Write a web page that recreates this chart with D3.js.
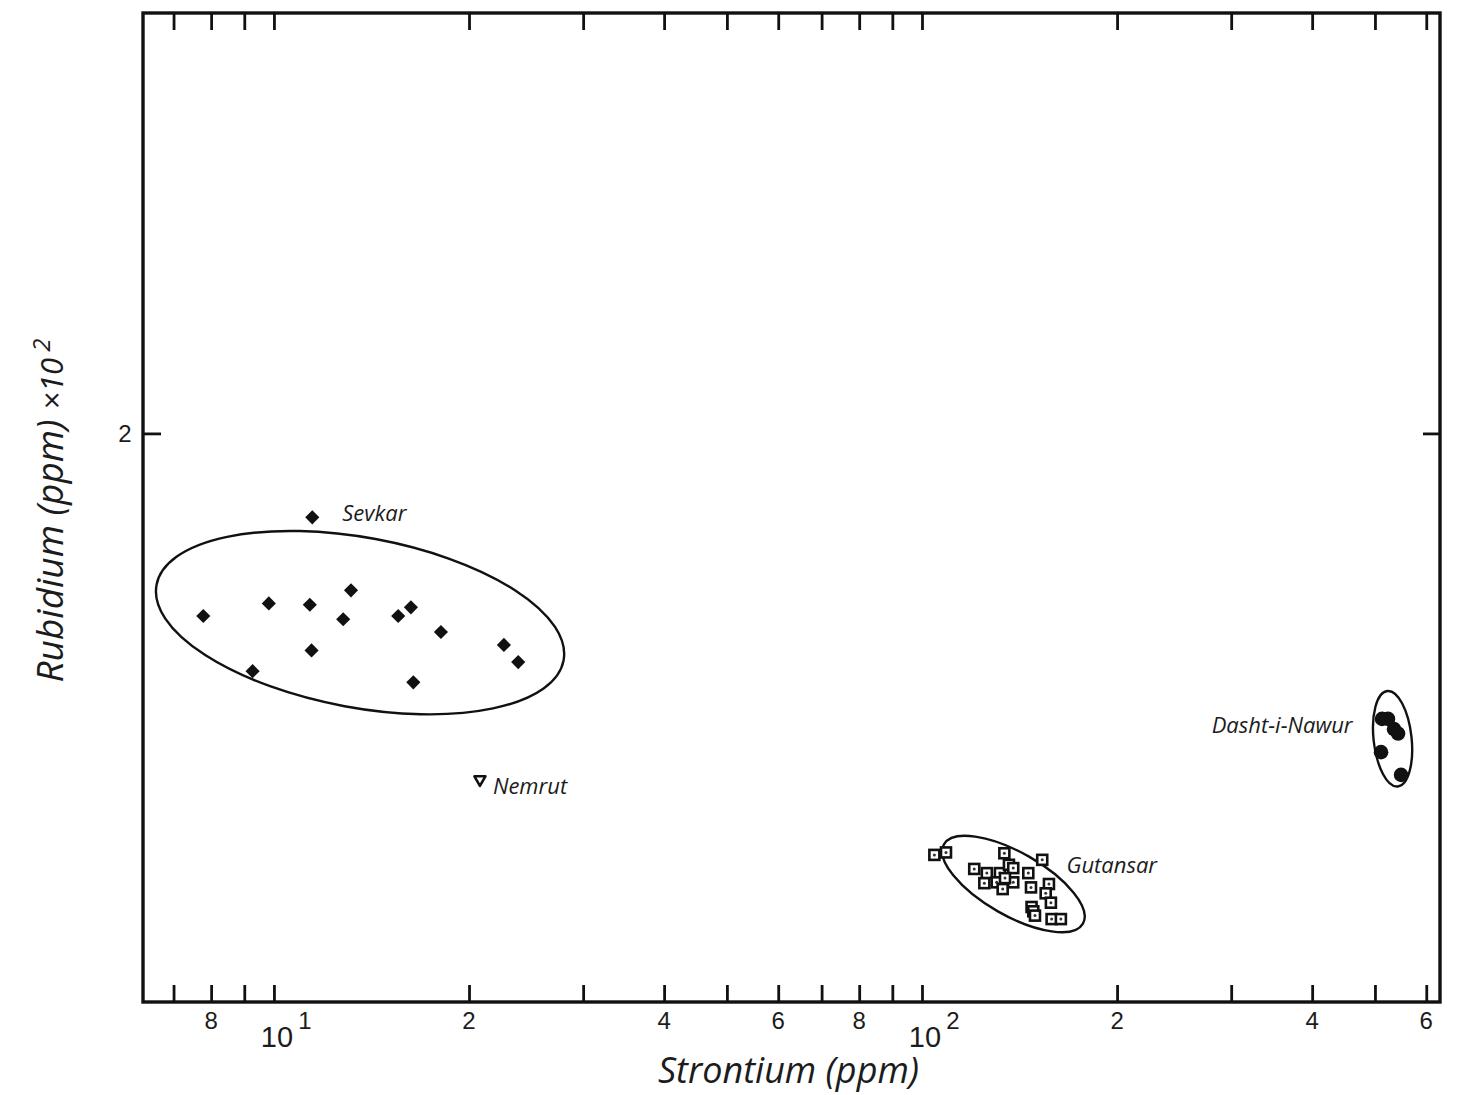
<!DOCTYPE html>
<html><head><meta charset="utf-8">
<script src="https://cdn.jsdelivr.net/npm/d3@7"></script>
<style>body{margin:0;background:#fff;} svg{display:block;}</style>
</head><body><svg id="c" width="1474" height="1095"></svg>
<script>
// ---------- DATA ----------
const xDomain = [6.28, 630];          // Strontium (ppm), log axis extent
const yDomain = [121, 290];           // Rubidium (ppm), log axis extent
const xTickValues = [7,8,9,10,20,30,40,50,60,70,80,90,100,200,300,400,500,600];
const xDigitTicks = [8,20,40,60,80,200,400,600];
const xDigitLabels = ["8","2","4","6","8","2","4","6"];
const xDecadeTicks = [10,100];
const xDecadeBase = ["10","10"];
const xDecadeExp = ["1","2"];
const yTickValues = [200];
const yTickLabels = ["2"];

const sevkarSr = [11.46,7.78,9.82,11.36,13.15,12.79,15.55,16.27,18.10,11.43,9.27,16.41,22.64,23.82];
const sevkarRb = [185.7,170.2,172.1,171.9,174.1,169.7,170.2,171.5,167.8,165.1,162.1,160.5,165.9,163.4];

const nemrutSr = [20.79];
const nemrutRb = [147.3];

const gutansarSr = [104.5,108.9,134.0,153.3,120.4,125.9,131.9,136.2,138.3,145.9,124.8,130.4,133.2,138.3,147.3,157.0,155.2,158.1,147.6,148.5,149.4,158.5,163.8,134.3];
const gutansarRb = [137.8,138.1,138.0,137.2,136.1,135.6,135.6,136.6,136.2,135.6,134.4,134.5,133.7,134.5,133.9,134.3,133.2,132.1,131.6,131.1,130.6,130.2,130.2,135.0];

const dashtSr = [512.8,523.8,535.1,542.8,510.9,548.6];
const dashtRb = [155.4,155.4,154.0,153.4,150.9,147.9];

// group envelopes: centre (Sr, Rb)
const ellipseNames = ["Sevkar","Gutansar","Dasht-i-Nawur"];
const ellipseSr = [13.58, 138.4, 532.3];
const ellipseRb = [169.2, 134.3, 152.7];

// ---------- DRAWING ----------
const svg = d3.select("#c");
const X0 = 143, X1 = 1440, Y0 = 13, Y1 = 1002;
const ink = "#111";
const x = d3.scaleLog().domain(xDomain).range([X0, X1]);
const y = d3.scaleLog().domain(yDomain).range([Y1, Y0]);

svg.append("rect").attr("width",1474).attr("height",1095).attr("fill","#fff");

function styleAxis(g){
  g.select(".domain").remove();
  g.selectAll(".tick line").attr("stroke", ink).attr("stroke-width", 2.8);
  g.selectAll(".tick text").remove();
}
svg.append("g").attr("transform",`translate(0,${Y1})`)
  .call(d3.axisBottom(x).tickValues(xTickValues).tickSize(-17).tickSizeOuter(0).tickFormat(""))
  .call(styleAxis);
svg.append("g").attr("transform",`translate(0,${Y0})`)
  .call(d3.axisTop(x).tickValues(xTickValues).tickSize(-17).tickSizeOuter(0).tickFormat(""))
  .call(styleAxis);
svg.append("g").attr("transform",`translate(${X0},0)`)
  .call(d3.axisLeft(y).tickValues(yTickValues).tickSize(-18).tickSizeOuter(0).tickFormat(""))
  .call(styleAxis);
svg.append("g").attr("transform",`translate(${X1},0)`)
  .call(d3.axisRight(y).tickValues(yTickValues).tickSize(-17).tickSizeOuter(0).tickFormat(""))
  .call(styleAxis);

// frame
svg.append("rect").attr("x",X0).attr("y",Y0).attr("width",X1-X0).attr("height",Y1-Y0)
  .attr("fill","none").attr("stroke",ink).attr("stroke-width",3.4);

// tick labels
const tickFont = "'Liberation Sans', Arial, Helvetica, sans-serif";
svg.append("g").selectAll("text").data(xDigitTicks).join("text")
  .attr("x", d => x(d)).attr("y", 1028.5)
  .attr("text-anchor","middle").attr("font-family",tickFont).attr("font-size",24).attr("fill","#1c1c1c")
  .text((d,i) => xDigitLabels[i]);
const dec = svg.append("g").selectAll("g").data(xDecadeTicks).join("g");
dec.append("text").attr("x", d => x(d)+3).attr("y", 1047)
  .attr("text-anchor","middle").attr("font-family",tickFont).attr("font-size",29).attr("fill","#1c1c1c")
  .text((d,i) => xDecadeBase[i]);
dec.append("text").attr("x", d => x(d)+31).attr("y", 1028.5)
  .attr("text-anchor","middle").attr("font-family",tickFont).attr("font-size",24).attr("fill","#1c1c1c")
  .text((d,i) => xDecadeExp[i]);
svg.append("g").selectAll("text").data(yTickValues).join("text")
  .attr("x", 125).attr("y", d => y(d)+8.5)
  .attr("text-anchor","middle").attr("font-family",tickFont).attr("font-size",24).attr("fill","#1c1c1c")
  .text((d,i) => yTickLabels[i]);

// axis titles
const titleFont = "'Open Sans', 'Noto Sans', sans-serif";
svg.append("text").attr("x", (X0+X1)/2 - 3).attr("y", 1083)
  .attr("text-anchor","middle").attr("font-family",titleFont).attr("font-style","italic")
  .attr("font-size",36).attr("fill","#1c1c1c").text("Strontium (ppm)");
const yt = svg.append("text").attr("transform",`translate(63,${(Y0+Y1)/2 + 3}) rotate(-90)`)
  .attr("text-anchor","middle").attr("font-family",titleFont).attr("font-style","italic")
  .attr("fill","#1c1c1c").attr("font-size",37);
yt.append("tspan").text("Rubidium (ppm) ");
yt.append("tspan").attr("font-size",31).text(" \u00d710");
yt.append("tspan").attr("font-size",24).attr("dy",-13).text(" 2");

// ellipses
const ellipseGeom = [
  {rx:207, ry:85, rot:10.5},
  {rx:80, ry:31.5, rot:29.7},
  {rx:48, ry:19, rot:83.7}
];
svg.append("g").selectAll("ellipse").data(ellipseNames).join("ellipse")
  .attr("transform", (d,i) => `translate(${x(ellipseSr[i])},${y(ellipseRb[i])}) rotate(${ellipseGeom[i].rot})`)
  .attr("rx", (d,i) => ellipseGeom[i].rx).attr("ry", (d,i) => ellipseGeom[i].ry)
  .attr("fill","none").attr("stroke",ink).attr("stroke-width",2.4);

// Sevkar diamonds
const sevkar = d3.zip(sevkarSr, sevkarRb);
svg.append("g").selectAll("path").data(sevkar).join("path")
  .attr("transform", d => `translate(${x(d[0])},${y(d[1])}) rotate(45)`)
  .attr("d", d3.symbol(d3.symbolSquare, 100)).attr("fill", ink);

// Nemrut open inverted triangle
const nemrut = d3.zip(nemrutSr, nemrutRb);
svg.append("g").selectAll("path").data(nemrut).join("path")
  .attr("transform", d => `translate(${x(d[0])},${y(d[1])}) rotate(180)`)
  .attr("d", d3.symbol(d3.symbolTriangle, 52)).attr("fill","#fff")
  .attr("stroke", ink).attr("stroke-width", 2.6).attr("stroke-linejoin","round");

// Gutansar open squares with centre dot
const gutansar = d3.zip(gutansarSr, gutansarRb);
const gq = svg.append("g").selectAll("g").data(gutansar).join("g")
  .attr("transform", d => `translate(${x(d[0])},${y(d[1])})`);
gq.append("rect").attr("x",-5).attr("y",-5).attr("width",10).attr("height",10)
  .attr("fill","#fff").attr("stroke",ink).attr("stroke-width",2.6);
gq.append("circle").attr("r",1.5).attr("fill","#333");

// Dasht-i-Nawur filled circles
const dasht = d3.zip(dashtSr, dashtRb);
svg.append("g").selectAll("circle").data(dasht).join("circle")
  .attr("cx", d => x(d[0])).attr("cy", d => y(d[1])).attr("r", 7.3).attr("fill", ink);

// group labels
const lab = (t, px, py, anchor) => svg.append("text").attr("x",px).attr("y",py)
  .attr("text-anchor",anchor).attr("font-family",titleFont).attr("font-style","italic")
  .attr("font-size",22).attr("fill","#1c1c1c").text(t);
const sevkarTop = sevkar[0];
lab("Sevkar", x(sevkarTop[0]) + 30, y(sevkarTop[1]) + 4, "start");
lab("Nemrut", x(nemrut[0][0]) + 13, y(nemrut[0][1]) + 15, "start");
lab("Gutansar", x(ellipseSr[1]) + 53, y(ellipseRb[1]) - 11, "start");
lab("Dasht-i-Nawur", x(ellipseSr[2]) - 40, y(ellipseRb[2]) - 6, "end");
</script></body></html>
